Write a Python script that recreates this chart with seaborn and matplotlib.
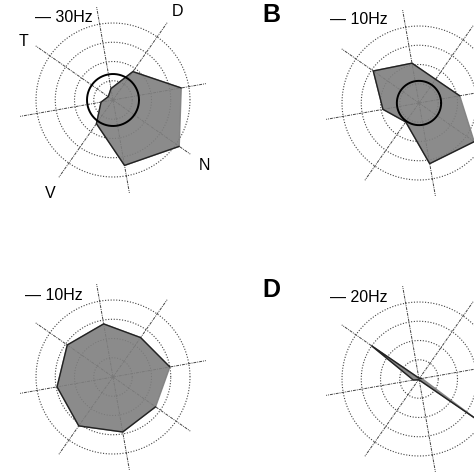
import numpy as np
import pandas as pd
import matplotlib
matplotlib.use("Agg")
import matplotlib.pyplot as plt
import seaborn as sns

sns.set_style("white")
plt.rcParams['font.family'] = ['Liberation Sans', 'DejaVu Sans']
plt.rcParams['text.color'] = 'black'

spoke_deg = [10, 55, 100, 145, 190, 235, 280, 325]
vals_A = [3.6, 1.8, 0.6, 0.3, 0.63, 1.5, 3.45, 4.2]
vals_B = [2.15, 1.5, 2.1, 2.9, 1.9, 1.2, 3.2, 3.5]
vals_C = [3.0, 2.5, 2.8, 2.9, 2.95, 3.1, 2.9, 2.7]
vals_D = [0.15, 0.05, 0.05, 3.0, 0.3, 0.05, 0.05, 3.6]
scale_labels = ["— 30Hz", "— 10Hz", "— 10Hz", "— 20Hz"]
circle_r = [1.35, 1.15, None, None]

W = 474
RMAX = 5.0
RPX = 77 * RMAX / 4.0
fig = plt.figure(figsize=(4.74, 4.74), dpi=100)

panels = [((113, 100), vals_A), ((419, 103), vals_B), ((113, 377), vals_C), ((419, 379), vals_D)]
for i, ((cx, cy), vals) in enumerate(panels):
    ax = fig.add_axes([(cx - RPX) / W, (W - cy - RPX) / W, 2 * RPX / W, 2 * RPX / W], projection='polar')
    ax.set_ylim(0, RMAX)
    ax.grid(False)
    ax.set_xticks([]); ax.set_yticks([])
    ax.spines['polar'].set_visible(False)
    ax.patch.set_alpha(0)
    t = np.linspace(0, 2 * np.pi, 200)
    for r in [1, 2, 3, 4]:
        ax.plot(t, np.full_like(t, r), ls=(0, (1, 1.5)), color='#444444', lw=0.8)
    for d in spoke_deg:
        ax.plot([np.deg2rad(d)] * 2, [0, 4.9], ls=(0, (3, 1, 1, 1)), color='#444444', lw=0.7)
    th = np.deg2rad(spoke_deg + [spoke_deg[0]])
    rr = vals + [vals[0]]
    ax.fill(th, rr, color='#7f7f7f', alpha=0.9, zorder=3)
    df = pd.DataFrame({'theta': th, 'r': rr})
    sns.lineplot(data=df, x='theta', y='r', sort=False, ax=ax, color='#222222', lw=1.0, zorder=4)
    ax.set_xlabel(''); ax.set_ylabel('')
    if circle_r[i]:
        ax.plot(t, np.full_like(t, circle_r[i]), color='black', lw=1.4, zorder=5)

def ftxt(x, y, s, **kw):
    fig.text(x / W, 1 - y / W, s, va='center', **kw)

ftxt(35, 18, scale_labels[0], fontsize=11.5)
ftxt(330, 20, scale_labels[1], fontsize=11.5)
ftxt(25, 295, scale_labels[2], fontsize=11.5)
ftxt(330, 298, scale_labels[3], fontsize=11.5)
ftxt(262, 15, "B", fontsize=18, fontweight='bold')
ftxt(262, 290, "D", fontsize=18, fontweight='bold')
ftxt(172, 12, "D", fontsize=11.5)
ftxt(19, 42, "T", fontsize=11.5)
ftxt(199, 165, "N", fontsize=11.5)
ftxt(45, 193, "V", fontsize=11.5)

fig.savefig("out.png", dpi=100)
